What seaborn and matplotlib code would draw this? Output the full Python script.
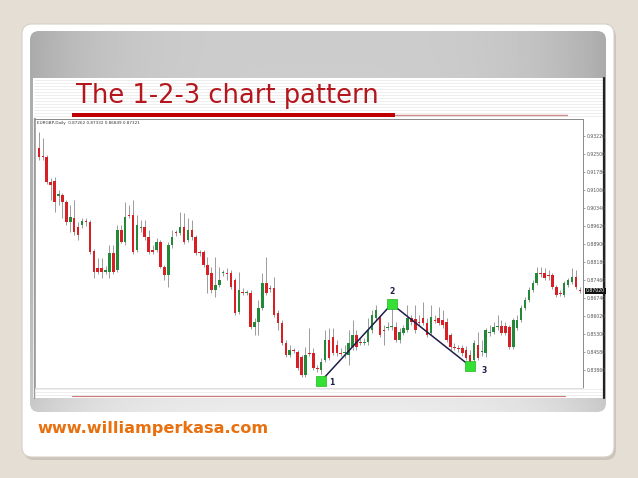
import numpy as np
import matplotlib
matplotlib.use("Agg")
import matplotlib.pyplot as plt
from matplotlib.patches import FancyBboxPatch, Rectangle
import seaborn as sns

# ---- data (EURGBP daily) ----
opens = [0.9274, 0.9242, 0.9238, 0.9138, 0.9142, 0.9082, 0.9086, 0.9058, 0.8978, 0.8994,
         0.8958, 0.8966, 0.8982, 0.8978, 0.8862, 0.8794, 0.8794, 0.8778, 0.8778, 0.8854,
         0.8786, 0.8946, 0.8898, 0.9006, 0.9006, 0.8866, 0.8954, 0.8958, 0.8918, 0.8866,
         0.8866, 0.8898, 0.8798, 0.8766, 0.8886, 0.8938, 0.8934, 0.8958, 0.8906, 0.8946,
         0.8918, 0.8858, 0.8858, 0.8806, 0.8774, 0.8706, 0.8726, 0.8774, 0.8774, 0.8774,
         0.8746, 0.8618, 0.8698, 0.8694, 0.8694, 0.8558, 0.8578, 0.8634, 0.8734, 0.8714,
         0.8714, 0.8614, 0.8574, 0.8494, 0.8446, 0.8466, 0.8458, 0.8438, 0.8366, 0.8454,
         0.8454, 0.8394, 0.8386, 0.8426, 0.8506, 0.8518, 0.8486, 0.8454, 0.8454, 0.8446,
         0.8478, 0.8526, 0.8498, 0.8494, 0.8498, 0.8546, 0.8594, 0.8598, 0.8546, 0.8554,
         0.8558, 0.8558, 0.8506, 0.8534, 0.8546, 0.8594, 0.8590, 0.8578, 0.8594, 0.8574,
         0.8534, 0.8586, 0.8594, 0.8586, 0.8578, 0.8526, 0.8478, 0.8474, 0.8474, 0.8466,
         0.8446, 0.8426, 0.8486, 0.8458, 0.8454, 0.8534, 0.8538, 0.8558, 0.8562, 0.8562,
         0.8558, 0.8478, 0.8554, 0.8586, 0.8634, 0.8666, 0.8706, 0.8734, 0.8774, 0.8774,
         0.8766, 0.8766, 0.8718, 0.8694, 0.8686, 0.8726, 0.8738, 0.8758, 0.8706]
closes = [0.9238, 0.9238, 0.9138, 0.9126, 0.9058, 0.9090, 0.9058, 0.8978, 0.8998, 0.8938,
          0.8926, 0.8982, 0.8978, 0.8858, 0.8778, 0.8778, 0.8778, 0.8786, 0.8854, 0.8778,
          0.8946, 0.8898, 0.8998, 0.9002, 0.8858, 0.8966, 0.8958, 0.8918, 0.8858, 0.8858,
          0.8898, 0.8798, 0.8766, 0.8886, 0.8918, 0.8934, 0.8958, 0.8898, 0.8946, 0.8918,
          0.8854, 0.8854, 0.8806, 0.8766, 0.8706, 0.8726, 0.8746, 0.8778, 0.8770, 0.8718,
          0.8614, 0.8706, 0.8694, 0.8698, 0.8558, 0.8578, 0.8634, 0.8734, 0.8694, 0.8710,
          0.8606, 0.8574, 0.8494, 0.8446, 0.8466, 0.8462, 0.8394, 0.8366, 0.8446, 0.8450,
          0.8394, 0.8390, 0.8418, 0.8506, 0.8434, 0.8454, 0.8454, 0.8450, 0.8458, 0.8494,
          0.8526, 0.8478, 0.8494, 0.8498, 0.8546, 0.8606, 0.8626, 0.8526, 0.8542, 0.8558,
          0.8562, 0.8506, 0.8538, 0.8554, 0.8594, 0.8578, 0.8546, 0.8574, 0.8574, 0.8526,
          0.8598, 0.8582, 0.8574, 0.8566, 0.8506, 0.8478, 0.8474, 0.8470, 0.8454, 0.8434,
          0.8418, 0.8494, 0.8434, 0.8462, 0.8546, 0.8538, 0.8558, 0.8562, 0.8534, 0.8534,
          0.8478, 0.8586, 0.8586, 0.8634, 0.8666, 0.8706, 0.8734, 0.8774, 0.8770, 0.8754,
          0.8762, 0.8718, 0.8686, 0.8690, 0.8734, 0.8746, 0.8758, 0.8718, 0.8702]
highs = [0.9338, 0.9314, 0.9246, 0.9154, 0.9158, 0.9106, 0.9094, 0.9066, 0.9046, 0.9066,
         0.8978, 0.8994, 0.8994, 0.8986, 0.8870, 0.8834, 0.8834, 0.8802, 0.8886, 0.8886,
         0.8966, 0.8966, 0.9058, 0.9046, 0.9066, 0.9006, 0.8986, 0.8986, 0.8946, 0.8886,
         0.8914, 0.8906, 0.8806, 0.8898, 0.8946, 0.8946, 0.9018, 0.9014, 0.8994, 0.8986,
         0.8926, 0.8866, 0.8866, 0.8838, 0.8798, 0.8838, 0.8798, 0.8786, 0.8794, 0.8786,
         0.8754, 0.8778, 0.8714, 0.8706, 0.8706, 0.8594, 0.8666, 0.8774, 0.8838, 0.8726,
         0.8758, 0.8626, 0.8586, 0.8506, 0.8486, 0.8474, 0.8466, 0.8446, 0.8478, 0.8554,
         0.8474, 0.8406, 0.8434, 0.8546, 0.8554, 0.8554, 0.8506, 0.8474, 0.8486, 0.8546,
         0.8586, 0.8546, 0.8514, 0.8514, 0.8594, 0.8626, 0.8646, 0.8606, 0.8566, 0.8578,
         0.8642, 0.8578, 0.8554, 0.8566, 0.8646, 0.8606, 0.8646, 0.8606, 0.8658, 0.8594,
         0.8646, 0.8606, 0.8638, 0.8626, 0.8594, 0.8534, 0.8494, 0.8486, 0.8486, 0.8482,
         0.8466, 0.8506, 0.8538, 0.8506, 0.8554, 0.8566, 0.8578, 0.8606, 0.8586, 0.8578,
         0.8566, 0.8594, 0.8606, 0.8646, 0.8678, 0.8718, 0.8746, 0.8798, 0.8798, 0.8794,
         0.8786, 0.8774, 0.8726, 0.8706, 0.8742, 0.8754, 0.8794, 0.8786, 0.8718]
lows = [0.9226, 0.9226, 0.9130, 0.9066, 0.9018, 0.9046, 0.8994, 0.8966, 0.8938, 0.8926,
        0.8906, 0.8954, 0.8962, 0.8850, 0.8754, 0.8770, 0.8754, 0.8770, 0.8754, 0.8770,
        0.8778, 0.8894, 0.8886, 0.8994, 0.8850, 0.8858, 0.8938, 0.8906, 0.8850, 0.8850,
        0.8858, 0.8794, 0.8746, 0.8718, 0.8874, 0.8922, 0.8926, 0.8890, 0.8898, 0.8906,
        0.8846, 0.8842, 0.8798, 0.8694, 0.8694, 0.8678, 0.8718, 0.8762, 0.8746, 0.8710,
        0.8606, 0.8610, 0.8686, 0.8686, 0.8550, 0.8526, 0.8526, 0.8626, 0.8686, 0.8698,
        0.8598, 0.8546, 0.8486, 0.8438, 0.8438, 0.8454, 0.8386, 0.8358, 0.8358, 0.8442,
        0.8386, 0.8378, 0.8370, 0.8418, 0.8426, 0.8446, 0.8442, 0.8442, 0.8434, 0.8406,
        0.8466, 0.8466, 0.8486, 0.8486, 0.8486, 0.8534, 0.8586, 0.8518, 0.8486, 0.8546,
        0.8546, 0.8498, 0.8494, 0.8526, 0.8538, 0.8566, 0.8534, 0.8566, 0.8566, 0.8518,
        0.8526, 0.8574, 0.8566, 0.8554, 0.8498, 0.8466, 0.8466, 0.8458, 0.8442, 0.8426,
        0.8410, 0.8414, 0.8426, 0.8442, 0.8438, 0.8522, 0.8530, 0.8546, 0.8526, 0.8526,
        0.8470, 0.8470, 0.8546, 0.8578, 0.8626, 0.8658, 0.8698, 0.8726, 0.8758, 0.8746,
        0.8746, 0.8710, 0.8678, 0.8682, 0.8678, 0.8718, 0.8730, 0.8710, 0.8694]

# the 1-2-3 points (candle index, price)
pattern_idx = [72, 90, 110]
pattern_px = [0.8342, 0.8650, 0.8402]
pattern_lbl = ["1", "2", "3"]

price_ticks = [0.93220, 0.92500, 0.91780, 0.91060, 0.90340, 0.89620, 0.88900,
               0.88180, 0.87460, 0.86740, 0.86020, 0.85300, 0.84580, 0.83860]

title = "The 1-2-3 chart pattern"
header = "EURGBP,Daily  0.87262 0.87332 0.86849 0.87321"
footer = "www.williamperkasa.com"

sns.set_style("white")

fig = plt.figure(figsize=(6.38, 4.78), dpi=100)
fig.patch.set_facecolor("#e4ded4")

# background slide drawn in pixel units
bg = fig.add_axes([0, 0, 1, 1])
bg.set_xlim(0, 638)
bg.set_ylim(478, 0)
bg.axis("off")

bg.add_patch(FancyBboxPatch((24, 27), 592, 433, boxstyle="round,pad=0,rounding_size=10",
                            fc="#b9b3aa", ec="none", alpha=0.6))
bg.add_patch(FancyBboxPatch((22, 24), 592, 433, boxstyle="round,pad=0,rounding_size=10",
                            fc="white", ec="#d6d0c6", lw=0.8))

panel = FancyBboxPatch((30, 31), 576, 381, boxstyle="round,pad=0,rounding_size=9",
                       fc="none", ec="none")
bg.add_patch(panel)
gx = np.linspace(-1, 1, 300)
gy = np.linspace(0, 1, 200)
GX, GY = np.meshgrid(gx, gy)
grad = 0.80 - 0.13 * GX ** 4 + 0.12 * GY ** 2
img = bg.imshow(grad, cmap="gray", vmin=0, vmax=1, extent=[30, 606, 412, 31],
                aspect="auto", zorder=1)
img.set_clip_path(panel)

# white screenshot area
bg.add_patch(Rectangle((33, 78), 572, 320, fc="white", ec="none", zorder=2))
for yy in np.arange(80, 118, 3):
    bg.plot([34, 603], [yy, yy], color="#e8e8e8", lw=0.5, zorder=3)
for yy in np.arange(389, 398, 3):
    bg.plot([34, 603], [yy, yy], color="#e8e8e8", lw=0.5, zorder=3)
bg.plot([603.5, 603.5], [78, 398], color="#222222", lw=1.6, zorder=4)
bg.plot([33.5, 33.5], [118, 398], color="#9a9a9a", lw=1.0, zorder=4)
bg.add_patch(Rectangle((72, 113), 323, 4, fc="#c00000", ec="none", zorder=4))
bg.plot([395, 567], [115, 115], color="#cc8a8a", lw=1.0, zorder=4)
bg.plot([72, 565], [396, 396], color="#cc7a7a", lw=0.8, zorder=4)

bg.text(76, 96, title, color="#b3171d", fontsize=18.5, va="center", ha="left", zorder=5)
bg.text(37, 428, footer, color="#e8700f", fontsize=11.6, fontweight="bold",
        va="center", ha="left", zorder=5)

# candlestick chart
ax = fig.add_axes([35 / 638, 1 - 388 / 478, 548 / 638, 269 / 478])
ax.set_facecolor("white")
idx = np.arange(len(opens))
o = np.array(opens)
c = np.array(closes)
up = c >= o
ax.vlines(idx, lows, highs, color="#8c8c8c", lw=0.6, zorder=2)
body = np.maximum(np.abs(c - o), 0.0003)
ax.bar(idx, body, bottom=np.minimum(o, c), width=0.66,
       color=np.where(up, "#23883a", "#d62025"), lw=0, zorder=3)

sns.lineplot(x=pattern_idx, y=pattern_px, ax=ax, color="#1e1e4a", lw=1.1,
             sort=False, zorder=4)
sns.scatterplot(x=pattern_idx, y=pattern_px, ax=ax, marker="s", s=50,
                color="#34e034", edgecolor="#22b322", linewidth=0.5, zorder=5)
offsets = [(8, -1), (0, 9), (10, -3)]
for xi, yi, lb, off in zip(pattern_idx, pattern_px, pattern_lbl, offsets):
    ax.annotate(lb, (xi, yi), xytext=off, textcoords="offset points", fontsize=5.5,
                fontweight="bold", color="#1e1e4a", ha="center", va="center", zorder=6)

ax.set_xlim(-1.0, 138.8)
ax.set_ylim(0.8314, 0.9390)
ax.set_xticks([])
ax.yaxis.tick_right()
ax.set_yticks(price_ticks)
ax.set_yticklabels([f"{t:.5f}" for t in price_ticks])
ax.tick_params(axis="y", labelsize=3.3, length=1.5, width=0.4, pad=1.5,
               colors="#555555")
for s in ["top", "right", "bottom"]:
    ax.spines[s].set_color("#8a8a8a")
    ax.spines[s].set_linewidth(0.7)
ax.spines["bottom"].set_color("#dddddd")
ax.spines["left"].set_color("#9a9a9a")
ax.spines["left"].set_linewidth(1.2)
ax.text(0.004, 0.992, header, transform=ax.transAxes, fontsize=3.0, va="top",
        ha="left", color="#333333")
ax.annotate(f"{closes[-1]:.5f}", xy=(1, closes[-1]), xycoords=("axes fraction", "data"),
            xytext=(2, 0), textcoords="offset points", fontsize=3.3, color="white",
            va="center", ha="left",
            bbox=dict(boxstyle="square,pad=0.2", fc="#111111", ec="none"))

fig.savefig("out.png", dpi=100)
